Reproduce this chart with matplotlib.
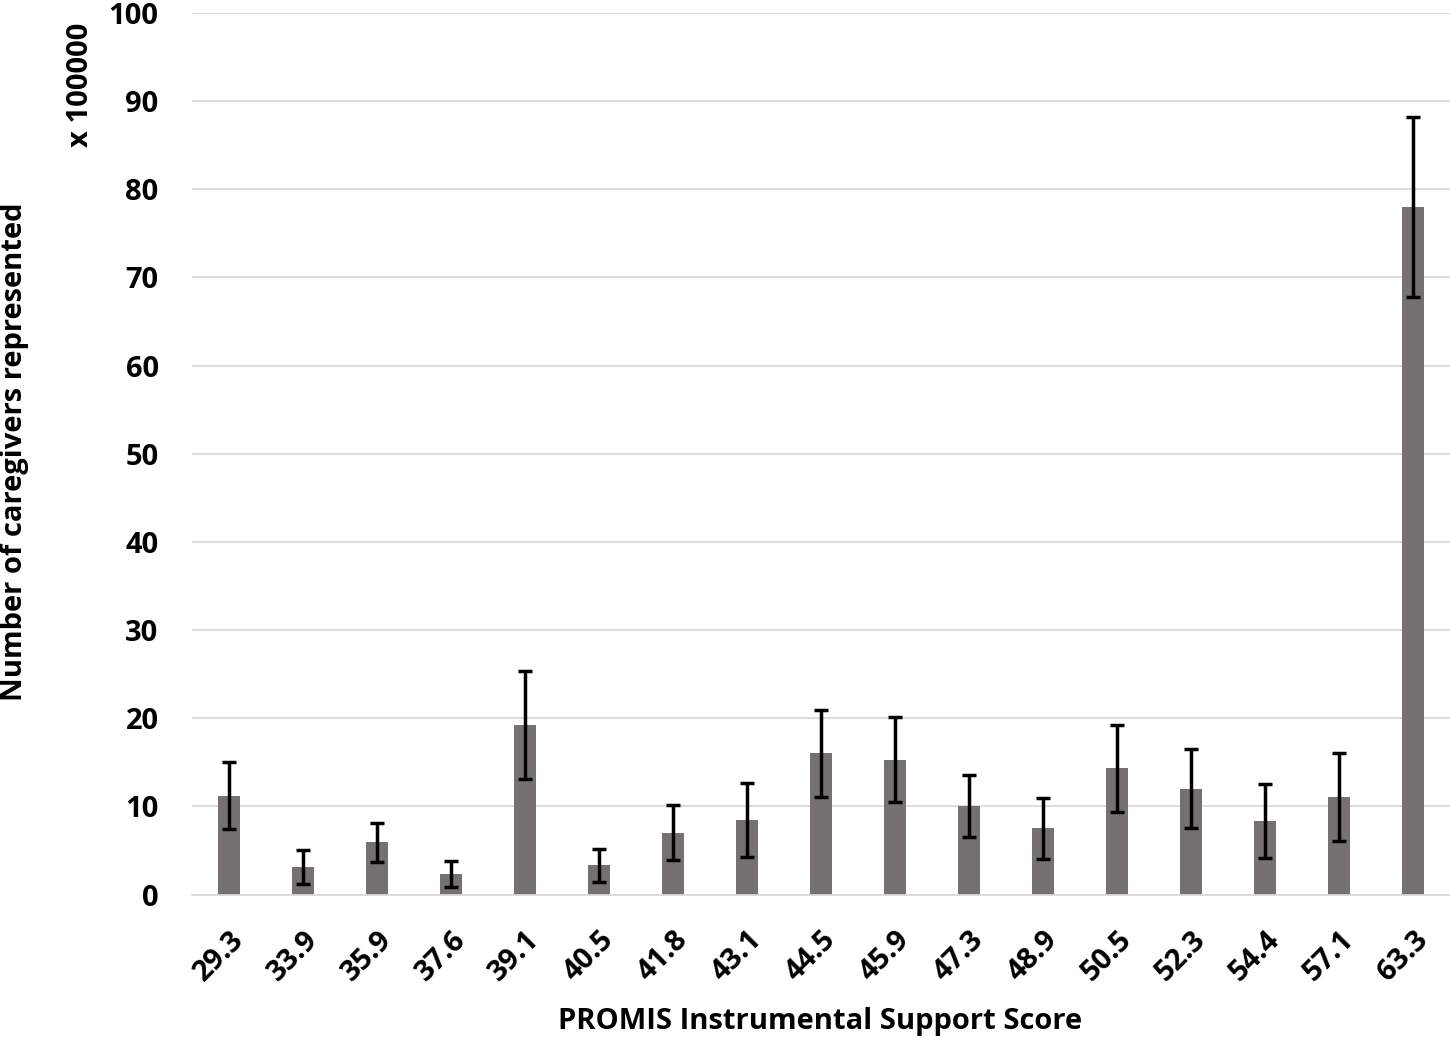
import matplotlib
matplotlib.use("Agg")
import matplotlib.pyplot as plt
import numpy as np

# PROMIS score categories and estimated counts (x 100000)
scores = ["29.3", "33.9", "35.9", "37.6", "39.1", "40.5", "41.8", "43.1", "44.5",
          "45.9", "47.3", "48.9", "50.5", "52.3", "54.4", "57.1", "63.3"]
counts = [11.2, 3.1, 5.9, 2.3, 19.2, 3.3, 7.0, 8.5, 16.0,
          15.3, 10.0, 7.5, 14.3, 12.0, 8.3, 11.1, 78.0]
errors = [3.8, 1.9, 2.2, 1.5, 6.1, 1.9, 3.1, 4.2, 4.9,
          4.8, 3.5, 3.5, 4.9, 4.5, 4.2, 5.0, 10.2]

plt.rcParams['font.family'] = ['Open Sans', 'DejaVu Sans']
plt.rcParams['font.weight'] = 'bold'

fig = plt.figure(figsize=(14.5, 10.4), dpi=100)
ax = fig.add_axes([192 / 1450, 1 - 894.5 / 1040, 1258 / 1450, (894.5 - 13) / 1040])

x = np.arange(len(scores))
ax.bar(x, counts, width=0.31, color='#767171', zorder=2)
ax.errorbar(x, counts, yerr=errors, fmt='none', ecolor='black',
            elinewidth=2.5, capsize=5, capthick=2.5, zorder=3)

ax.set_xlim(-0.5, len(scores) - 0.5)
ax.set_ylim(0, 100)
ax.set_yticks(range(0, 101, 10))
ax.yaxis.grid(True, color='#D9D9D9', linewidth=1.3, zorder=0)
ax.set_axisbelow(True)
for s in ['top', 'right', 'left']:
    ax.spines[s].set_visible(False)
ax.spines['bottom'].set_color('#D9D9D9')
ax.spines['bottom'].set_linewidth(1.3)
ax.tick_params(axis='both', length=0, labelsize=21)
ax.tick_params(axis='y', pad=24)
ax.set_xticks(x)
ax.set_xticklabels(scores, rotation=45, ha='right', rotation_mode='anchor',
                   fontweight='bold')
ax.tick_params(axis='x', pad=22)
for lab in ax.get_yticklabels():
    lab.set_fontweight('bold')

fig.text(15 / 1450, 1 - 452 / 1040, 'Number of caregivers represented', rotation=90,
         ha='center', va='center', fontsize=21, fontweight='bold')
fig.text(80 / 1450, 1 - 85 / 1040, 'x 100000', rotation=90,
         ha='center', va='center', fontsize=21, fontweight='bold')
fig.text(820 / 1450, 1 - 1022 / 1040, 'PROMIS Instrumental Support Score',
         ha='center', va='center', fontsize=21, fontweight='bold')

fig.savefig('out.png', dpi=100)
